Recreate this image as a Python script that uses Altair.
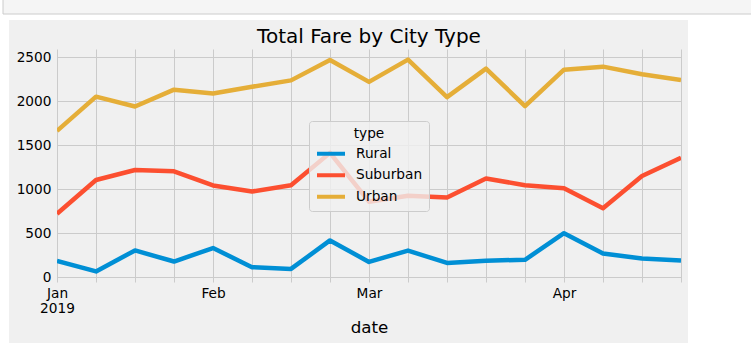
import altair as alt
import pandas as pd

dates = ["2019-01-06", "2019-01-13", "2019-01-20", "2019-01-27", "2019-02-03",
         "2019-02-10", "2019-02-17", "2019-02-24", "2019-03-03", "2019-03-10",
         "2019-03-17", "2019-03-24", "2019-03-31", "2019-04-07", "2019-04-14",
         "2019-04-21", "2019-04-28"]
rural = [187.92, 67.65, 306.00, 179.69, 333.08, 115.80, 95.82, 419.06, 175.14,
         303.94, 163.39, 189.76, 199.42, 501.24, 269.79, 214.14, 191.85]
suburban = [721.60, 1105.13, 1218.20, 1203.28, 1042.79, 974.34, 1045.50, 1412.74,
            858.46, 925.27, 906.20, 1122.20, 1045.06, 1010.73, 784.82, 1149.27, 1357.75]
urban = [1661.68, 2050.43, 1939.02, 2129.51, 2086.94, 2162.64, 2235.07, 2466.29,
         2218.20, 2470.93, 2044.42, 2368.37, 1942.77, 2356.70, 2390.72, 2303.80, 2238.29]
types = ["Rural", "Suburban", "Urban"]
colors = ["#008fd5", "#fc4f30", "#e5ae38"]
y_ticks = [0, 500, 1000, 1500, 2000, 2500]
chart_title = "Total Fare by City Type"

rows = []
for t, vals in zip(types, [rural, suburban, urban]):
    for d, v in zip(dates, vals):
        rows.append({"date": d, "type": t, "fare": v})
df = pd.DataFrame(rows)


def dt(s):
    y, m, d = (int(p) for p in s.split("-"))
    return alt.DateTime(year=y, month=m, date=d, utc=True)


week_values = [dt(d) for d in dates]
FONT = "DejaVu Sans"

label_expr = ("utcdate(datum.value) <= 7 ? (utcmonth(datum.value) == 0 ? "
              "[utcFormat(datum.value, '%b'), utcFormat(datum.value, '%Y')] : "
              "utcFormat(datum.value, '%b')) : ''")

deco = pd.DataFrame({"k": [0]})


def white_rect(x1, x2, y1, y2):
    return alt.Chart(deco).mark_rect(fill="white", stroke=None).encode(
        x=alt.value(x1), x2=alt.value(x2), y=alt.value(y1), y2=alt.value(y2))


deco_layers = [
    white_rect(-60, -48, -60, 310),
    white_rect(631, 700, -60, 310),
    white_rect(-60, 700, -60, -29),
    white_rect(-60, 700, 294, 310),
    alt.Chart(deco).mark_rect(fill="#f5f5f5", stroke="#cccccc", strokeWidth=1).encode(
        x=alt.value(-54), x2=alt.value(710), y=alt.value(-60), y2=alt.value(-35)),
]

title_layer = alt.Chart(deco).mark_text(
    text=chart_title, font=FONT, fontSize=20, color="black", align="center",
    baseline="alphabetic").encode(x=alt.value(312), y=alt.value(-6.3))

lines = alt.Chart(df).mark_line(strokeWidth=4.5, clip=True, strokeJoin="round",
                                 strokeCap="butt").encode(
    x=alt.X("date:T",
            scale=alt.Scale(type="utc", domain=[week_values[0], week_values[-1]], nice=False),
            axis=alt.Axis(values=week_values, labelExpr=label_expr, title="date",
                          grid=True, gridColor="#cbcbcb", gridWidth=1,
                          domain=False, ticks=False, labelPadding=4,
                          labelFont=FONT, labelFontSize=13.7, labelColor="black",
                          labelLineHeight=15.5, labelOverlap=False, labelFlush=False,
                          labelBound=False, labelAlign="center", labelBaseline="top",
                          titleFont=FONT, titleFontSize=16.7, titleFontWeight="normal",
                          titleColor="black", titlePadding=4)),
    y=alt.Y("fare:Q",
            scale=alt.Scale(domain=[-52.5, 2591.1], nice=False, zero=False),
            axis=alt.Axis(values=y_ticks, format="d", title=None, grid=True,
                          gridColor="#cbcbcb", gridWidth=1, domain=False, ticks=False,
                          labelPadding=6, labelFont=FONT, labelFontSize=13.7,
                          labelColor="black")),
    color=alt.Color("type:N",
                    scale=alt.Scale(domain=types, range=colors),
                    legend=alt.Legend(title="type", orient="none", legendX=252, legendY=72,
                                      direction="vertical",
                                      fillColor="rgba(240,240,240,0.8)",
                                      strokeColor="#cccccc", cornerRadius=3, padding=6,
                                      symbolType="stroke", symbolSize=784,
                                      symbolStrokeWidth=4, clipHeight=16, rowPadding=5.5,
                                      labelOffset=9, labelFont=FONT, labelFontSize=13.7,
                                      labelColor="black", titleFont=FONT,
                                      titleFontSize=13.7, titleFontWeight="normal",
                                      titleColor="black", titleAnchor="middle",
                                      titlePadding=5)),
)

chart = alt.layer(*deco_layers, title_layer, lines).properties(
    width=624,
    height=233,
    background="#f0f0f0",
    autosize=alt.AutoSizeParams(type="none"),
    padding={"left": 57, "top": 49, "right": 70, "bottom": 69},
).configure_view(stroke=None, fill=None)

chart.save("out.html", embed_options={"renderer": "svg", "actions": False})
